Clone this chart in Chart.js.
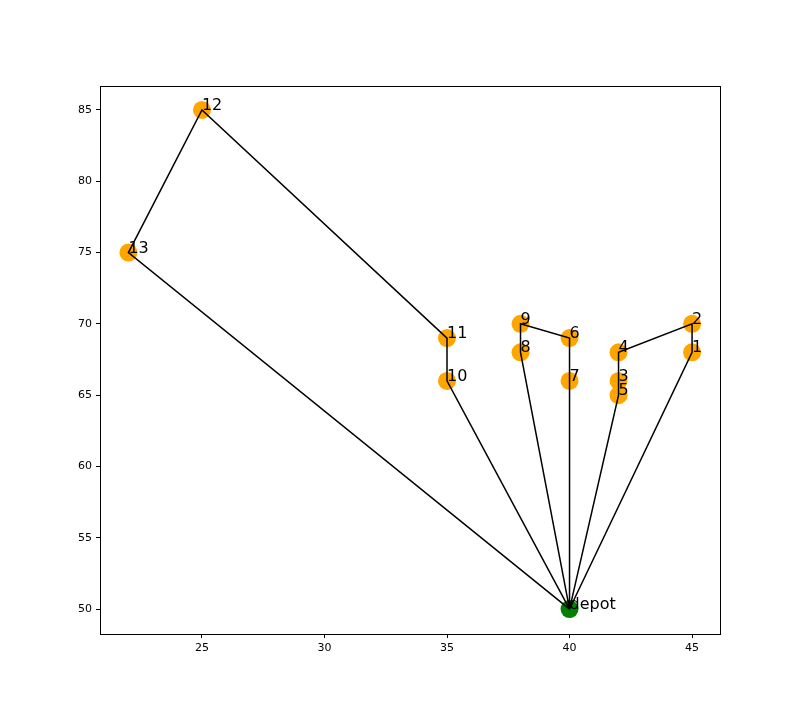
<!DOCTYPE html>
<html>
<head>
<meta charset="utf-8">
<script src="https://cdn.jsdelivr.net/npm/chart.js@4/dist/chart.umd.min.js"></script>
<style>body{margin:0;background:#fff}</style>
</head>
<body>
<canvas id="c" width="800" height="712"></canvas>
<script>
// customers and depot
const nodeNames = ['depot', '1', '2', '3', '4', '5', '6', '7', '8', '9', '10', '11', '12', '13'];
const nodeX = [40, 45, 45, 42, 42, 42, 40, 40, 38, 38, 35, 35, 25, 22];
const nodeY = [50, 68, 70, 66, 68, 65, 69, 66, 68, 70, 66, 69, 85, 75];
// routes as node indices
const routes = [
    [0, 1, 2, 4, 3, 5, 0],
    [0, 7, 6, 9, 8, 0],
    [0, 10, 11, 12, 13, 0]
];
const xTicks = [25, 30, 35, 40, 45];
const yTicks = [50, 55, 60, 65, 70, 75, 80, 85];

const points = nodeX.map((x, i) => ({ x: x, y: nodeY[i] }));

const datasets = routes.map(r => ({
    type: 'line',
    data: r.map(i => points[i]),
    borderColor: '#000',
    borderWidth: 1.5,
    pointRadius: 0,
    fill: false,
    tension: 0,
    order: 1
}));
datasets.push({
    type: 'scatter',
    data: points,
    backgroundColor: nodeNames.map(n => n === 'depot' ? '#008000' : '#ffa500'),
    borderWidth: 0,
    pointRadius: 9,
    order: 2
});

const labelPlugin = {
    id: 'labels',
    afterDatasetsDraw(chart) {
        const ctx = chart.ctx;
        const xs = chart.scales.x, ys = chart.scales.y;
        ctx.save();
        ctx.font = '16px "DejaVu Sans"';
        ctx.fillStyle = '#000';
        ctx.textAlign = 'left';
        ctx.textBaseline = 'alphabetic';
        nodeNames.forEach((n, i) => {
            ctx.fillText(n, xs.getPixelForValue(nodeX[i]), ys.getPixelForValue(nodeY[i]));
        });
        const a = chart.chartArea;
        ctx.strokeStyle = '#000';
        ctx.lineWidth = 1;
        ctx.strokeRect(a.left + 0.5, a.top + 0.5, a.right - a.left, a.bottom - a.top);
        ctx.restore();
    }
};

const tickFont = { family: 'DejaVu Sans', size: 11 };

new Chart(document.getElementById('c'), {
    data: { datasets: datasets },
    plugins: [labelPlugin],
    options: {
        responsive: false,
        animation: false,
        layout: { padding: { top: 86, right: 80, left: 0, bottom: 0 } },
        plugins: { legend: { display: false }, tooltip: { enabled: false } },
        scales: {
            x: {
                type: 'linear', min: 20.84, max: 46.14,
                afterBuildTicks: s => { s.ticks = xTicks.map(v => ({ value: v })); },
                afterFit: s => { s.height = 78; },
                ticks: { font: tickFont, color: '#000', padding: 4 },
                grid: { drawOnChartArea: false, tickLength: 4, color: '#000' },
                border: { color: '#000' }
            },
            y: {
                type: 'linear', min: 48.25, max: 86.68,
                afterBuildTicks: s => { s.ticks = yTicks.map(v => ({ value: v })); },
                afterFit: s => { s.width = 100; },
                ticks: { font: tickFont, color: '#000', padding: 4 },
                grid: { drawOnChartArea: false, tickLength: 4, color: '#000' },
                border: { color: '#000' }
            }
        }
    }
});
</script>
</body>
</html>
